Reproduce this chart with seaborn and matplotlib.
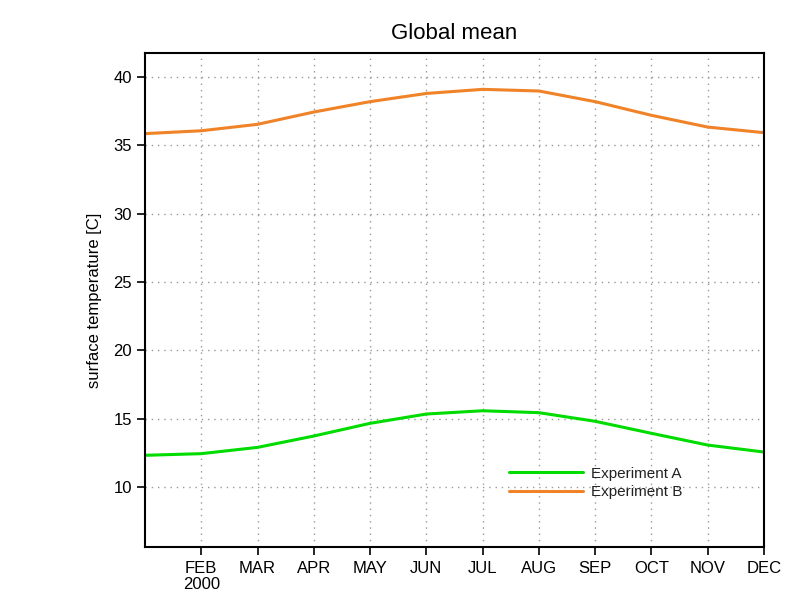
import matplotlib
matplotlib.use("Agg")
import matplotlib.pyplot as plt
import seaborn as sns
import pandas as pd
from matplotlib.lines import Line2D

months = ["JAN", "FEB", "MAR", "APR", "MAY", "JUN", "JUL", "AUG", "SEP", "OCT", "NOV", "DEC"]
month_idx = list(range(1, 13))
exp_a = [12.32, 12.44, 12.90, 13.73, 14.66, 15.34, 15.58, 15.44, 14.81, 13.93, 13.07, 12.56]
exp_b = [35.86, 36.07, 36.54, 37.44, 38.20, 38.80, 39.10, 38.98, 38.20, 37.20, 36.34, 35.93]
series_names = ["Experiment A", "Experiment B"]
colors = ["#00dc00", "#f08228"]
yticks = [10, 15, 20, 25, 30, 35, 40]

df = pd.DataFrame({
    "month": month_idx * 2,
    "value": exp_a + exp_b,
    "series": [series_names[0]] * 12 + [series_names[1]] * 12,
})

sns.set_theme(style="ticks")
plt.rcParams["font.family"] = ["Liberation Sans", "DejaVu Sans"]
plt.rcParams["text.color"] = "black"
plt.rcParams["axes.labelcolor"] = "black"
plt.rcParams["xtick.color"] = "black"
plt.rcParams["ytick.color"] = "black"

fig = plt.figure(figsize=(8, 6), dpi=100)
ax = fig.add_axes([145 / 800, 1 - 547 / 600, (764 - 145) / 800, (547 - 53) / 600])

sns.lineplot(data=df, x="month", y="value", hue="series",
             palette=dict(zip(series_names, colors)), linewidth=2.2, ax=ax, legend=False)

ax.set_xlim(1, 12)
ax.set_ylim(5.61, 41.76)
ax.set_yticks(yticks)
ax.set_yticklabels([str(v) for v in yticks], fontsize=12)
ax.set_xticks(month_idx[1:])
xl = [m for m in months[1:]]
xl[0] = "FEB\n2000"
ax.set_xticklabels(xl, fontsize=12, linespacing=1.1, va="top")
ax.tick_params(axis="both", direction="out", length=6, width=1.2, colors="black")
ax.tick_params(axis="x", pad=4)

ax.grid(True, linestyle=(0, (1, 3.5)), color="#999999", linewidth=1.0)
for s in ax.spines.values():
    s.set_color("black")
    s.set_linewidth(1.5)

ax.set_xlabel("")
ax.set_ylabel("surface temperature [C]", fontsize=12, labelpad=8, color="black")
ax.set_title("Global mean", fontsize=16, pad=10, color="black")

handles = [Line2D([0], [0], color=c, lw=2.2) for c in colors]
ax.legend(handles, series_names, loc="upper left",
          bbox_to_anchor=(495 / 800, 1 - 453 / 600), bbox_transform=fig.transFigure,
          frameon=False, fontsize=11, handlelength=4.84, handletextpad=0.52,
          labelspacing=0.3, labelcolor="#222222")

fig.savefig("out.png", dpi=100)
